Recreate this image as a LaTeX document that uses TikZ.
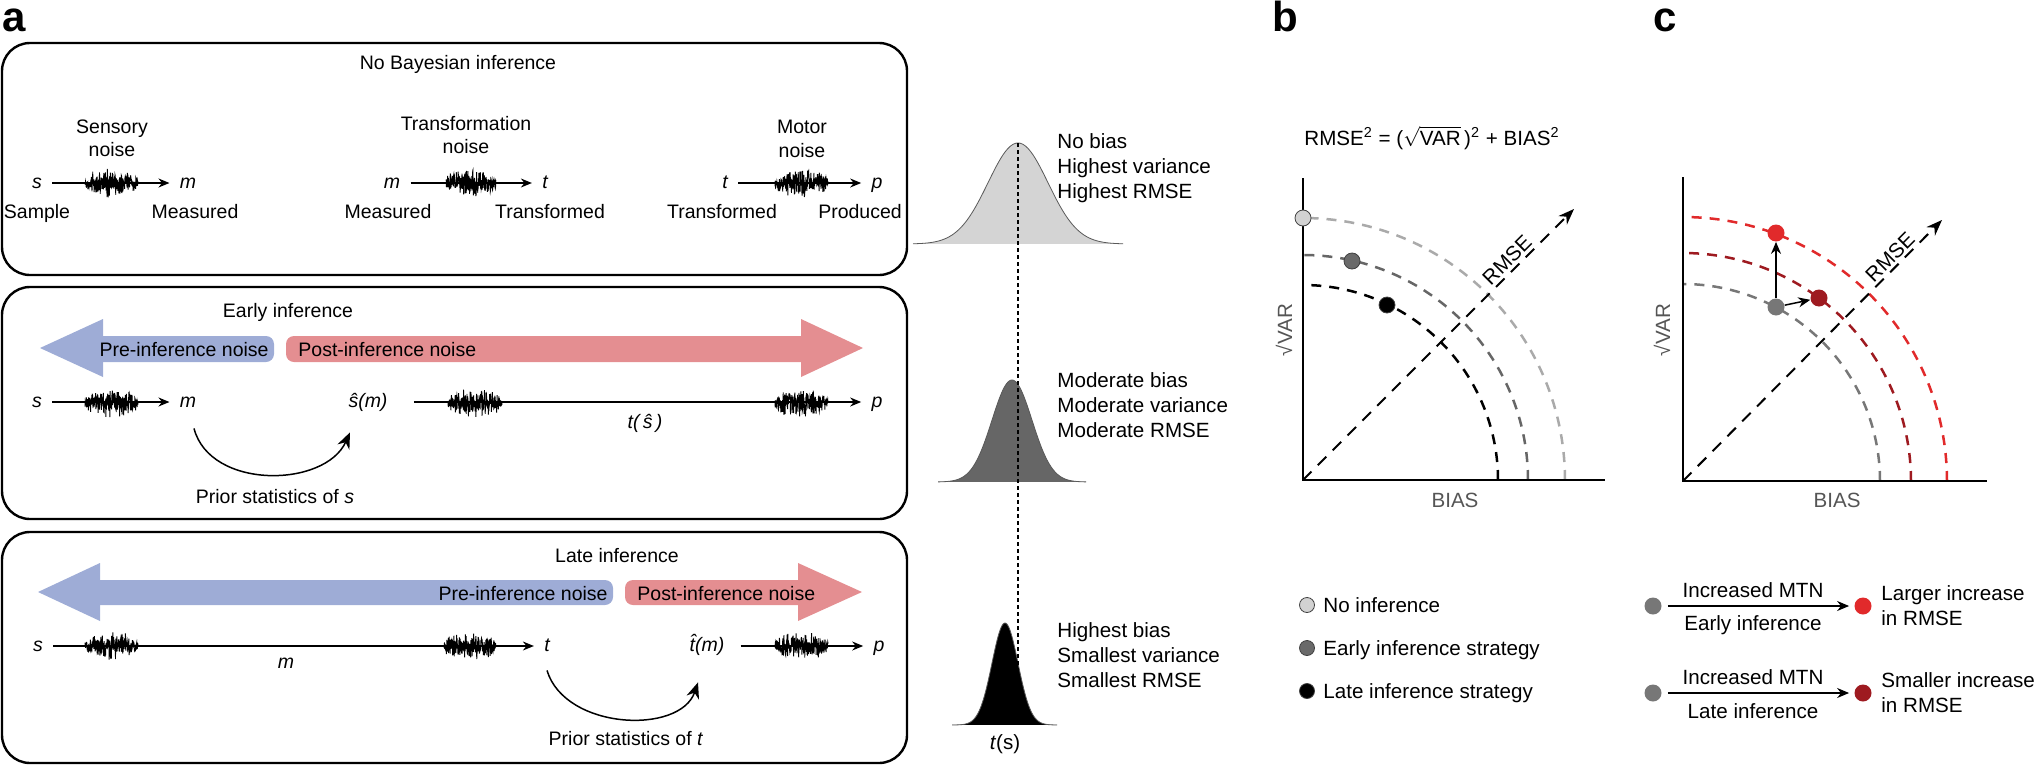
\documentclass[tikz,border=0pt]{standalone}
\usepackage{fontspec}
\setmainfont{Liberation Sans}
\usetikzlibrary{arrows.meta}

\definecolor{preblue}{HTML}{9EACD6}
\definecolor{postred}{HTML}{E48E91}
\definecolor{bellA}{HTML}{D4D4D4}
\definecolor{bellB}{HTML}{666666}
\definecolor{arcL}{HTML}{AAAAAA}
\definecolor{arcM}{HTML}{666666}
\definecolor{redA}{HTML}{E12A2B}
\definecolor{redB}{HTML}{9E1A20}
\definecolor{grayC}{HTML}{777777}
\definecolor{axlab}{HTML}{555555}
\definecolor{dotL}{HTML}{D2D2D2}
\definecolor{dotM}{HTML}{6A6A6A}

\newcommand{\noiseburst}[4]{%
  \pgfmathsetseed{#1}%
  \draw[noisestyle] plot[samples=220, domain=#2:#3, variable=\nx]
    (\nx, {#4 + rand*(6+9*rnd)*(abs(sin(180*(\nx-#2)/(#3-#2)))+0.02)^0.3});
}

\begin{document}
\begin{tikzpicture}[x=0.5pt, y=-0.5pt,
  ta/.style={font=\fontsize{9.75}{11}\selectfont, inner sep=0pt, anchor=base},
  tb/.style={font=\fontsize{10.3}{12}\selectfont, inner sep=0pt, anchor=base},
  sym/.style={font=\fontsize{9.75}{11}\selectfont\itshape, inner xsep=5pt, inner ysep=0pt, text height=5pt, text depth=0pt},
  lab/.style={font=\fontsize{21}{21}\selectfont\bfseries, inner sep=0pt},
  boxst/.style={line width=1.2pt, rounded corners=14pt},
  arr/.style={line width=0.65pt, -{Stealth[length=5.5pt,width=4.5pt]}},
  priorarr/.style={line width=0.75pt, -{Stealth[length=8pt,width=6.5pt]}},
  noisestyle/.style={line width=0.45pt},
  bellline/.style={line width=0.4pt, draw=black!65},
  dotln/.style={line width=0.9pt, dash pattern=on 2pt off 1.5pt},
  axisst/.style={line width=1pt},
  arcst/.style={line width=1.25pt, dash pattern=on 5pt off 4pt},
  diagst/.style={line width=1pt, dash pattern=on 6pt off 4.5pt, -{Stealth[length=8pt,width=6pt]}},
  dotst/.style={circle, inner sep=0pt, minimum size=8pt, draw=black!75, line width=0.4pt},
  dotc/.style={circle, inner sep=0pt, minimum size=8.5pt},
  arrc/.style={line width=0.75pt, -{Stealth[length=6pt,width=5pt]}}
]
\useasboundingbox (0,0) rectangle (2036,766);

% ================= panel a =================
\node[lab, anchor=base west] (la) at (2,31) {a};

% ---- box 1
\draw[boxst] (2,43) rectangle (907,275);
\node[ta] (nbi) at (458,69) {No Bayesian inference};
\node[ta] (sen1) at (112,133) {Sensory};
\node[ta] (sen2) at (112,156) {noise};
\node[ta] (tra1) at (466,130) {Transformation};
\node[ta] (tra2) at (466,153) {noise};
\node[ta] (mot1) at (802,133) {Motor};
\node[ta] (mot2) at (802,157) {noise};

\node[sym] (a1s) at (37,183) {s};
\node[sym] (a1m) at (188,183) {m};
\node[sym] (a1m2) at (392,183) {m};
\node[sym] (a1t) at (545,183) {t};
\node[sym] (a1t2) at (725,183) {t};
\node[sym] (a1p) at (877,183) {p};
\draw[arr] (a1s) -- (a1m);
\draw[arr] (a1m2) -- (a1t);
\draw[arr] (a1t2) -- (a1p);
\noiseburst{11}{85}{138}{183}
\noiseburst{23}{446}{496}{183}
\noiseburst{37}{775}{828}{183}

\node[ta] (lsam) at (37,218) {Sample};
\node[ta] (lmea1) at (195,218) {Measured};
\node[ta] (lmea2) at (388,218) {Measured};
\node[ta] (ltra1) at (550,218) {Transformed};
\node[ta] (ltra2) at (722,218) {Transformed};
\node[ta] (lpro) at (860,218) {Produced};

% ---- box 2
\draw[boxst] (2,287) rectangle (907,519);
\node[ta] (ei) at (288,317) {Early inference};
\fill[preblue] (40,348) -- (103,319) -- (103,377) -- cycle;
\fill[preblue, rounded corners=4pt] (95,336) rectangle (274,362);
\fill[postred, rounded corners=4pt] (286,336) rectangle (810,362);
\fill[postred] (863,348) -- (801,319) -- (801,377) -- cycle;
\node[ta, anchor=base east] (pre2) at (269,356) {Pre-inference noise};
\node[ta, anchor=base west] (post2) at (298,356) {Post-inference noise};

\node[sym] (b2s) at (37,402) {s};
\node[sym] (b2m) at (188,402) {m};
\node[sym] (b2sh) at (368,402) {\^{s}(m)};
\node[sym] (b2p) at (877,402) {p};
\draw[arr] (b2s) -- (b2m);
\draw[arr, shorten <=8pt] (b2sh) -- (b2p);
\noiseburst{41}{85}{138}{403}
\noiseburst{53}{448}{502}{403}
\noiseburst{67}{775}{828}{403}
\node[sym] (b2ts) at (645,423) {t(\,\^{s}\,)};
\draw[priorarr] ([shift={(6,21)}]b2m.south) .. controls (210,490) and (325,488) .. ([shift={(-18,25)}]b2sh.south);
\node[ta] (b2prior) at (275,503) {Prior statistics of \textit{s}};

% ---- box 3
\draw[boxst] (2,532) rectangle (907,763);
\node[ta] (li) at (617,562) {Late inference};
\fill[preblue] (38,592) -- (100,563) -- (100,621) -- cycle;
\fill[preblue, rounded corners=4pt] (92,580) rectangle (613,605);
\fill[postred, rounded corners=4pt] (625,580) rectangle (806,605);
\fill[postred] (862,592) -- (798,563) -- (798,621) -- cycle;
\node[ta, anchor=base east] (pre3) at (608,600) {Pre-inference noise};
\node[ta, anchor=base west] (post3) at (637,600) {Post-inference noise};

\node[sym] (c3s) at (38,646) {s};
\node[sym] (c3t) at (547,646) {t};
\node[sym] (c3th) at (707,646) {\^{t}(m)};
\node[sym] (c3p) at (879,646) {p};
\node[sym] (c3m) at (286,663) {m};
\draw[arr] (c3s) -- (c3t);
\draw[arr, shorten <=3pt] (c3th) -- (c3p);
\noiseburst{71}{85}{138}{646}
\noiseburst{83}{444}{496}{646}
\noiseburst{97}{775}{828}{646}
\draw[priorarr] ([shift={(0,19)}]c3t.south) .. controls (565,730) and (680,735) .. ([shift={(-9,31)}]c3th.south);
\node[ta] (c3prior) at (626,745) {Prior statistics of \textit{t}};

% ---- distributions
\fill[bellA] plot[domain=913:1123, samples=120] (\x,{244-101*exp(-((\x-1018)^2)/1800)}) -- cycle;
\draw[bellline] plot[domain=913:1123, samples=120] (\x,{244-101*exp(-((\x-1018)^2)/1800)});
\fill[bellB] plot[domain=938:1086, samples=120] (\x,{482-102*exp(-((\x-1012)^2)/800)}) -- cycle;
\draw[bellline] plot[domain=938:1086, samples=120] (\x,{482-102*exp(-((\x-1012)^2)/800)});
\fill[black] plot[domain=952:1057, samples=120] (\x,{725-102*exp(-((\x-1005)^2)/338)}) -- cycle;
\draw[bellline] plot[domain=952:1057, samples=120] (\x,{725-102*exp(-((\x-1005)^2)/338)});
\coordinate (dtop) at (1018,143);
\coordinate (dbot) at (1018,725);
\draw[dotln] (dtop) -- (dbot);
\node[tb] (tsl) at (1005,749) {\textit{t}(s)};

\node[tb, anchor=base west] (r11) at (1057,148) {No bias};
\node[tb, anchor=base west] (r12) at (1057,173) {Highest variance};
\node[tb, anchor=base west] (r13) at (1057,198) {Highest RMSE};
\node[tb, anchor=base west] (r21) at (1057,387) {Moderate bias};
\node[tb, anchor=base west] (r22) at (1057,412) {Moderate variance};
\node[tb, anchor=base west] (r23) at (1057,437) {Moderate RMSE};
\node[tb, anchor=base west] (r31) at (1057,637) {Highest bias};
\node[tb, anchor=base west] (r32) at (1057,662) {Smallest variance};
\node[tb, anchor=base west] (r33) at (1057,687) {Smallest RMSE};

% ================= panel b =================
\node[lab, anchor=base west] (lb) at (1272,31) {b};
\node[tb] (form) at (1432,145) {RMSE\textsuperscript{2} = ($\sqrt{\mbox{VAR}}$\,)\textsuperscript{2} + BIAS\textsuperscript{2}};
\coordinate (bO) at (1303,480);
\coordinate (bY) at (1303,178);
\coordinate (bX) at (1605,480);
\coordinate (bR) at (1574,209);
\draw[arcst, arcL] plot[domain=0:90, samples=70] ({1303+262*cos(\x)},{480-262*sin(\x)});
\draw[arcst, arcM] plot[domain=0:90, samples=70] ({1303+225*cos(\x)},{480-225*sin(\x)});
\draw[arcst, black] plot[domain=0:90, samples=70] ({1303+195*cos(\x)},{480-195*sin(\x)});
\draw[axisst] (bY) -- (bO) -- (bX);
\draw[diagst] (bO) -- (bR);
\node[tb, rotate=45, anchor=center] (brm) at (1507,260) {RMSE};
\node[dotst, fill=dotL] (bd1) at (1303,218) {};
\node[dotst, fill=dotM] (bd2) at (1352,261) {};
\node[dotst, fill=black] (bd3) at (1387,305) {};
\node[tb, text=axlab, rotate=90, anchor=center] (bvar) at (1284,330) {√VAR};
\node[tb, text=axlab, anchor=center] (bbias) at (1455,500) {BIAS};

\node[dotst, minimum size=7.5pt, fill=dotL] (bl1) at (1307,605) {};
\node[dotst, minimum size=7.5pt, fill=dotM] (bl2) at (1307,648) {};
\node[dotst, minimum size=7.5pt, fill=black] (bl3) at (1307,691) {};
\node[tb, anchor=base west] (blt1) at (1323,612) {No inference};
\node[tb, anchor=base west] (blt2) at (1323,655) {Early inference strategy};
\node[tb, anchor=base west] (blt3) at (1323,698) {Late inference strategy};

% ================= panel c =================
\node[lab, anchor=base west] (lc) at (1653,31) {c};
\coordinate (cO) at (1683,481);
\coordinate (cY) at (1683,177);
\coordinate (cX) at (1987,481);
\coordinate (cR) at (1942,220);
\draw[arcst, redA] plot[domain=0:90, samples=70] ({1683+264*cos(\x)},{481-264*sin(\x)});
\draw[arcst, redB] plot[domain=0:90, samples=70] ({1683+228*cos(\x)},{481-228*sin(\x)});
\draw[arcst, grayC] plot[domain=0:90, samples=70] ({1683+197*cos(\x)},{481-197*sin(\x)});
\draw[axisst] (cY) -- (cO) -- (cX);
\draw[diagst] (cO) -- (cR);
\node[tb, rotate=45, anchor=center] (crm) at (1890,257) {RMSE};
\node[dotc, fill=redA] (crd) at (1776,233) {};
\node[dotc, fill=redB] (cdd) at (1819,298) {};
\node[dotc, fill=grayC] (cgd) at (1776,307) {};
\draw[arrc] (cgd) -- (crd);
\draw[arrc] (cgd) -- (cdd);
\node[tb, text=axlab, rotate=90, anchor=center] (cvar) at (1662,330) {√VAR};
\node[tb, text=axlab, anchor=center] (cbias) at (1837,500) {BIAS};

\node[dotc, fill=grayC] (cg1) at (1653,606) {};
\node[dotc, fill=redA] (cr1) at (1863,606) {};
\node[dotc, fill=grayC] (cg2) at (1653,693) {};
\node[dotc, fill=redB] (cr2) at (1863,693) {};
\draw[arrc, shorten <=3pt, shorten >=2.5pt] (cg1) -- (cr1);
\draw[arrc, shorten <=3pt, shorten >=2.5pt] (cg2) -- (cr2);
\node[tb] (cl1a) at (1753,597) {Increased MTN};
\node[tb] (cl1b) at (1753,630) {Early inference};
\node[tb] (cl2a) at (1753,684) {Increased MTN};
\node[tb] (cl2b) at (1753,718) {Late inference};
\node[tb, anchor=base west] (cr1a) at (1881,600) {Larger increase};
\node[tb, anchor=base west] (cr1b) at (1881,625) {in RMSE};
\node[tb, anchor=base west] (cr2a) at (1881,687) {Smaller increase};
\node[tb, anchor=base west] (cr2b) at (1881,712) {in RMSE};
\end{tikzpicture}
\end{document}
